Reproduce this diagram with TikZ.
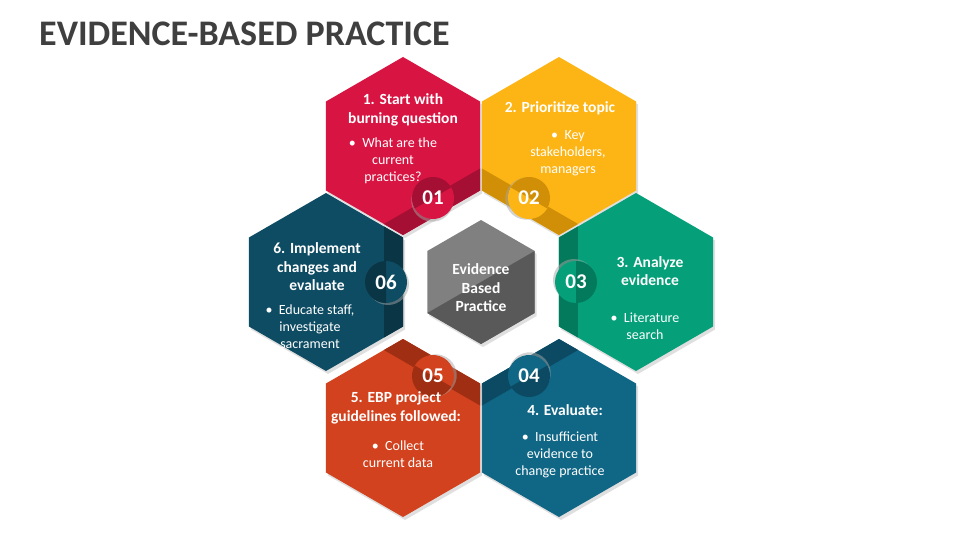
\documentclass[tikz,border=0pt]{standalone}
\usepackage{fontspec}
\setmainfont{Carlito}
\usetikzlibrary{calc}
\definecolor{c1}{HTML}{D81442}\definecolor{d1}{HTML}{A50F33}
\definecolor{c2}{HTML}{FDB515}\definecolor{d2}{HTML}{D08F06}
\definecolor{c3}{HTML}{05A07A}\definecolor{d3}{HTML}{047A5C}
\definecolor{c4}{HTML}{106685}\definecolor{d4}{HTML}{0B4A62}
\definecolor{c5}{HTML}{D2421E}\definecolor{d5}{HTML}{A02E12}
\definecolor{c6}{HTML}{0E4C63}\definecolor{d6}{HTML}{093545}
\definecolor{titlec}{HTML}{3F3F3F}
\tikzset{
  ttl/.style={text=white,font=\bfseries\fontsize{15.5}{18.5}\selectfont,align=center,inner sep=0},
  bul/.style={text=white,font=\fontsize{14}{17}\selectfont,align=center,inner sep=0},
  num/.style={text=white,font=\bfseries\fontsize{21}{22}\selectfont,inner sep=0},
}
\begin{document}
\begin{tikzpicture}[x=1pt,y=-1pt]
\useasboundingbox (0,0) rectangle (960,540);
\node[anchor=west,text=titlec,font=\bfseries\fontsize{36}{40}\selectfont,inner sep=0] (title) at (39,34) {EVIDENCE-BASED PRACTICE};
% hexagons
\foreach \cx/\cy/\ang/\c/\d in {403/146/60/c1/d1, 559/146/120/c2/d2, 636/282/180/c3/d3, 559/428/240/c4/d4, 403/428/300/c5/d5, 326/282/0/c6/d6}{
  \begin{scope}[shift={(\cx,\cy)}]
    \fill[black!25,opacity=.5,shift={(2,3)}] (30:89)--(90:89)--(150:89)--(210:89)--(270:89)--(330:89)--cycle;
    \fill[\c] (30:89)--(90:89)--(150:89)--(210:89)--(270:89)--(330:89)--cycle;
    \begin{scope}
      \clip (30:89)--(90:89)--(150:89)--(210:89)--(270:89)--(330:89)--cycle;
      \fill[\d,rotate=-\ang] (58,-100) rectangle (100,100);
    \end{scope}
  \end{scope}
}
\foreach \cx/\cy/\ang/\c/\d in {403/146/60/c1/d1, 559/146/120/c2/d2, 636/282/180/c3/d3, 559/428/240/c4/d4, 403/428/300/c5/d5, 326/282/0/c6/d6}{
  \begin{scope}[shift={(\cx,\cy)},rotate=-\ang]
    \fill[black!35,opacity=.5] (62,2) circle (21);
    \fill[\c] (60,0) circle (21);
    \fill[\d] (60,-21) arc[start angle=-90,end angle=-270,radius=21] -- cycle;
  \end{scope}
}
\node[num] (n1) at ($(403,146)+(60:60)$) {01};
\node[num] (n2) at ($(559,146)+(120:60)$) {02};
\node[num] (n3) at ($(636,282)+(180:60)$) {03};
\node[num] (n4) at ($(559,428)+(240:60)$) {04};
\node[num] (n5) at ($(403,428)+(300:60)$) {05};
\node[num] (n6) at ($(326,282)+(0:60)$) {06};
% center hex
\begin{scope}[shift={(481,282)}]
  \fill[black!25,opacity=.5,shift={(2,3)}] (30:62)--(90:62)--(150:62)--(210:62)--(270:62)--(330:62)--cycle;
  \fill[black!50] (30:62)--(90:62)--(150:62)--(210:62)--(270:62)--(330:62)--cycle;
  \fill[black!65] (150:62)--(90:62)--(30:62)--(330:62)--cycle;
\end{scope}
\node[ttl] (center) at (481,288) {Evidence\\Based\\Practice};
% texts
\node[ttl] (t1) at (403,110) {1. Start with\\burning question};
\node[bul] (b1) at (393,161) {•\ \ What are the\\current\\practices?};
\node[ttl] (t2) at (560,108) {2. Prioritize topic};
\node[bul] (b2) at (568,153) {•\ \ Key\\stakeholders,\\managers};
\node[ttl] (t3) at (650,271) {3. Analyze\\evidence};
\node[bul] (b3) at (645,326) {•\ \ Literature\\search};
\node[ttl] (t6) at (317,267) {6. Implement\\changes and\\evaluate};
\node[bul] (b6) at (310,327) {•\ \ Educate staff,\\investigate\\sacrament};
\node[ttl] (t5) at (396,408) {5. EBP project\\guidelines followed:};
\node[bul] (b5) at (398,454) {•\ \ Collect\\current data};
\node[ttl] (t4) at (565,410) {4. Evaluate:};
\node[bul] (b4) at (560,455) {•\ \ Insufficient\\evidence to\\change practice};
\end{tikzpicture}
\end{document}
